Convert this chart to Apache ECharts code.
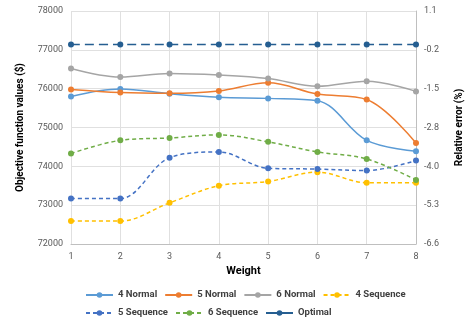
<!DOCTYPE html>
<html><head><meta charset="utf-8">
<script src="https://cdn.jsdelivr.net/npm/echarts@6/dist/echarts.min.js"></script>
<style>html,body{margin:0;padding:0;background:#fff}#c{width:474px;height:324px}</style>
</head><body><div id="c"></div>
<script>
const weights = ['1','2','3','4','5','6','7','8'];
const normal4 = [75800, 75990, 75870, 75780, 75750, 75690, 74670, 74390];
const normal5 = [75980, 75900, 75880, 75940, 76150, 75860, 75720, 74600];
const normal6 = [76520, 76300, 76390, 76350, 76260, 76060, 76190, 75930];
const seq4 = [72590, 72590, 73060, 73500, 73610, 73850, 73580, 73580];
const seq5 = [73170, 73170, 74220, 74370, 73950, 73930, 73890, 74150];
const seq6 = [74330, 74670, 74730, 74810, 74630, 74370, 74190, 73650];
const optimal = [77140, 77140, 77140, 77140, 77140, 77140, 77140, 77140];
const rightLabels = ['-6.6', '-5.3', '-4.0', '-2.8', '-1.5', '-0.2', '1.1'];

const font = 'Roboto, Open Sans, sans-serif';
function mk(name, data, color, dashed, dashArr) {
  return {
    name, type: 'line', data, smooth: 0.35, symbol: 'circle', symbolSize: 6,
    lineStyle: { color, width: 1.5, type: dashed ? (dashArr || 'dashed') : 'solid' },
    itemStyle: { color }, yAxisIndex: 0
  };
}
const legendText = { fontWeight: 'bold', fontSize: 9.5, color: '#404040', fontFamily: font };
const chart = echarts.init(document.getElementById('c'));
chart.setOption({
  animation: false,
  textStyle: { fontFamily: font },
  grid: { left: 71, right: 58, top: 11, bottom: 80 },
  xAxis: {
    type: 'category', data: weights, boundaryGap: false,
    name: 'Weight', nameLocation: 'middle', nameGap: 22,
    nameTextStyle: { fontWeight: 'bold', fontSize: 11, color: '#000' },
    axisLine: { lineStyle: { color: '#bfbfbf' } }, axisTick: { show: false },
    axisLabel: { color: '#595959', fontSize: 9, margin: 8 },
    splitLine: { show: true, lineStyle: { color: '#e0e0e0' } }
  },
  yAxis: [{
    type: 'value', min: 72000, max: 78000, interval: 1000,
    name: 'Objective function values ($)', nameLocation: 'middle', nameGap: 46,
    nameTextStyle: { fontWeight: 'bold', fontSize: 10, color: '#000' },
    axisLine: { show: false }, axisTick: { show: false },
    axisLabel: { color: '#595959', fontSize: 9, formatter: v => String(v) },
    splitLine: { lineStyle: { color: '#e0e0e0' } }
  }, {
    type: 'value', min: 0, max: 6, interval: 1, position: 'right',
    name: 'Relative error (%)', nameLocation: 'middle', nameGap: 38,
    nameTextStyle: { fontWeight: 'bold', fontSize: 10, color: '#000' },
    axisLine: { show: true, lineStyle: { color: '#bfbfbf' } }, axisTick: { show: false },
    axisLabel: { color: '#595959', fontSize: 9, formatter: v => rightLabels[v] },
    splitLine: { show: false }
  }],
  legend: [{
    left: 80, top: 285, itemWidth: 27, itemHeight: 7, itemGap: 7,
    textStyle: legendText,
    data: ['4 Normal', '5 Normal', '6 Normal', '4 Sequence']
  }, {
    left: 80, top: 303, itemWidth: 27, itemHeight: 7, itemGap: 7,
    textStyle: legendText,
    data: ['5 Sequence', '6 Sequence', { name: 'Optimal', lineStyle: { type: 'solid' } }]
  }],
  series: [
    mk('4 Normal', normal4, '#5B9BD5'),
    mk('5 Normal', normal5, '#ED7D31'),
    mk('6 Normal', normal6, '#A5A5A5'),
    mk('4 Sequence', seq4, '#FFC000', true, [4, 3]),
    mk('5 Sequence', seq5, '#4472C4', true, [4, 3]),
    mk('6 Sequence', seq6, '#70AD47', true, [4, 3]),
    mk('Optimal', optimal, '#255E91', true, [9, 5])
  ]
});
</script></body></html>
